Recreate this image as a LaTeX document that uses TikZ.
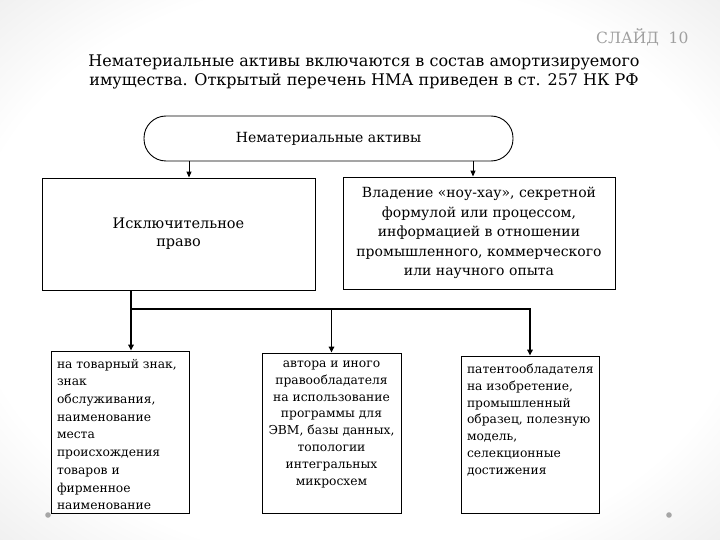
\documentclass[tikz,border=0pt]{standalone}
\usepackage{fontspec}
\setmainfont{DejaVu Serif}
\usetikzlibrary{arrows.meta, positioning}

\pgfdeclareradialshading{slidebg}{\pgfpoint{0bp}{0bp}}{color(0bp)=(white); color(27bp)=(white); color(50bp)=(black!16); color(70bp)=(black!30)}

\tikzset{
  box/.style={draw, line width=0.9pt, rectangle, inner sep=0pt, fill=white},
  arr/.style={-{Triangle[length=6pt,width=5pt]}, line width=1pt},
  link/.style={line width=1.5pt},
  linkarr/.style={link, -{Triangle[length=6pt,width=5.5pt]}},
  small/.style={font=\fontsize{12.3}{16.8}\selectfont},
  tall/.style={font=\fontsize{12.3}{17.7}\selectfont},
}

\begin{document}
\begin{tikzpicture}[x=1pt, y=-1pt]
    % Background
    \shade[shading=slidebg] (0,0) rectangle (720,540);
    \useasboundingbox (0,0) rectangle (720,540);
    \fill[gray!70] (48,515) circle (2.8pt);
    \fill[gray!70] (669,515) circle (2.8pt);

    % Heading
    \node[anchor=east, text=gray!75, font=\fontsize{15.5}{18}\selectfont] (slide) at (692,37) {СЛАЙД\ \ 10};
    \node[align=center, font=\fontsize{16}{19}\selectfont] (title) at (364,71.5)
        {Нематериальные активы включаются в состав амортизируемого\\имущества. Открытый перечень НМА приведен в ст. 257 НК РФ};

    % Top level
    \node[box, rounded corners=22pt, minimum width=369pt, minimum height=45pt,
          font=\fontsize{14}{17}\selectfont] (nma) at (328.5,138.5) {Нематериальные активы};

    % Second level
    \node[box, minimum width=273pt, minimum height=112pt, align=center,
          font=\fontsize{14.5}{18}\selectfont] (excl) at (178.5,234) {Исключительное\\право};
    \node[box, minimum width=272pt, minimum height=112pt, align=center,
          font=\fontsize{14}{19.5}\selectfont] (know) at (479,233)
        {Владение «ноу-хау», секретной\\формулой или процессом,\\информацией в отношении\\промышленного, коммерческого\\или научного опыта};

    % Third level
    \node[box, tall, minimum width=138pt, minimum height=162pt] (mark) at (120,432)
        {\begin{minipage}[c][146pt][t]{126pt}\raggedright
         на товарный знак,\\знак\\обслуживания,\\наименование\\места\\происхождения\\товаров и\\фирменное\\наименование\end{minipage}};
    \node[box, small, minimum width=139pt, minimum height=160pt] (soft) at (331.5,433)
        {\begin{minipage}[c][144pt][t]{127pt}\centering
         автора и иного\\правообладателя\\на использование\\программы для\\ЭВМ, базы данных,\\топологии\\интегральных\\микросхем\end{minipage}};
    \node[box, small, minimum width=138pt, minimum height=157pt] (patent) at (530,434.5)
        {\begin{minipage}[c][141pt][t]{126pt}\raggedright
         патентообладателя\\на изобретение,\\промышленный\\образец, полезную\\модель,\\селекционные\\достижения\end{minipage}};

    % Connectors
    \coordinate (a1) at (189,0);
    \coordinate (a2) at (473,0);
    \coordinate (b1) at (131,0);
    \coordinate (hub) at (131,309);
    \draw[arr] (a1 |- nma.south) -- (a1 |- excl.north);
    \draw[arr] (a2 |- nma.south) -- (a2 |- know.north);
    \draw[linkarr] (b1 |- excl.south) -- (b1 |- mark.north);
    \draw[linkarr] (hub) -| (patent.north);
    \draw[linkarr] (hub -| soft.north) -- (soft.north);
\end{tikzpicture}
\end{document}
